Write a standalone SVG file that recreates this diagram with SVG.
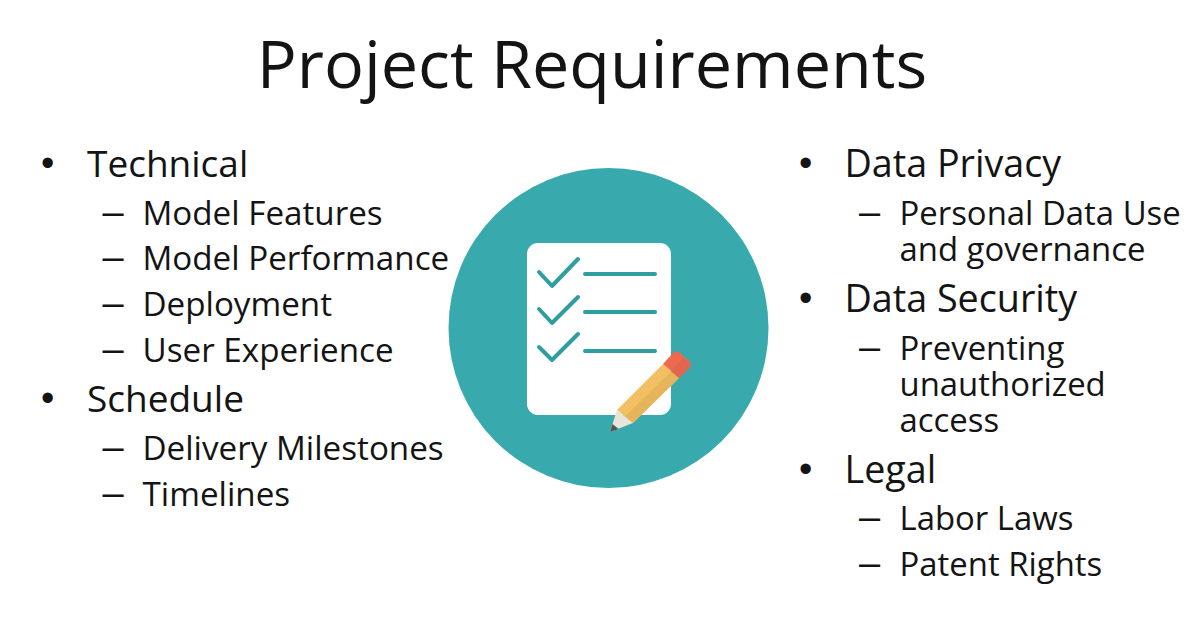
<svg xmlns="http://www.w3.org/2000/svg" width="1200" height="634" viewBox="0 0 1200 634">
<style>
text{font-family:"Open Sans","Noto Sans",sans-serif;fill:#141414}
.t{font-size:66.500px}.a{font-size:37px}.b{font-size:33.200px}
.ar{font-size:37.700px}.br{font-size:32.900px}
.u{font-family:"Liberation Sans",sans-serif;font-size:38px}
.d{font-family:"Liberation Sans",sans-serif;font-size:38px}
.c{fill:none;stroke:#2f9ea1;stroke-width:4;stroke-linecap:round;stroke-linejoin:round}
</style>
<rect width="1200" height="634" fill="#fff"/>
<text class="t" x="592" y="88" text-anchor="middle">Project Requirements</text>
<g id="left">
<text class="u" x="41" y="176">•</text><text class="a" x="87" y="177">Technical</text>
<text class="d" x="102.500" y="225">–</text><text class="b" x="142.500" y="225">Model Features</text>
<text class="d" x="102.500" y="270">–</text><text class="b" x="142.500" y="270">Model Performance</text>
<text class="d" x="102.500" y="316">–</text><text class="b" x="142.500" y="316">Deployment</text>
<text class="d" x="102.500" y="362">–</text><text class="b" x="142.500" y="362">User Experience</text>
<text class="u" x="41" y="411">•</text><text class="a" x="87" y="412">Schedule</text>
<text class="d" x="102.500" y="460">–</text><text class="b" x="142.500" y="460">Delivery Milestones</text>
<text class="d" x="102.500" y="506">–</text><text class="b" x="142.500" y="506">Timelines</text>
</g>
<g id="right">
<text class="u" x="799" y="176">•</text><text class="ar" x="844.500" y="177">Data Privacy</text>
<text class="d" x="859" y="225">–</text><text class="br" x="899.500" y="225">Personal Data Use<tspan x="899.500" y="261">and governance</tspan></text>
<text class="u" x="799" y="311">•</text><text class="ar" x="844.500" y="312">Data Security</text>
<text class="d" x="859" y="360">–</text><text class="br" x="899.500" y="360">Preventing<tspan x="899.500" y="396">unauthorized</tspan><tspan x="899.500" y="432">access</tspan></text>
<text class="u" x="799" y="482">•</text><text class="ar" x="844.500" y="483">Legal</text>
<text class="d" x="859" y="530">–</text><text class="br" x="899.500" y="530">Labor Laws</text>
<text class="d" x="859" y="576">–</text><text class="br" x="899.500" y="576">Patent Rights</text>
</g>
<g id="icon">
<circle cx="608.500" cy="328" r="160" fill="#38aaad"/>
<rect x="527" y="243" width="144" height="172" rx="11" fill="#fff"/>
<path class="c" d="M539 272l13 14 26-27M539 309l13 14 26-26M539 347l13 13 26-26M585 274h70M585 312h70M585 351h70"/>
<path d="M617 410l46-46 16 14-46 45z" fill="#f2c062"/>
<path d="M625 416.500l46-45 8 6.500-46 45z" fill="#e6b45b"/>
<path d="M610 432l7-22 16 13z" fill="#e9e4da"/>
<path d="M610 432l2.500-8 6 5z" fill="#555"/>
<path d="M663 364l10-11q3-3 6-1l11 10q2 3 0 5l-11 11z" fill="#ee6a4f"/>
<path d="M671 371l12-13 7 5q1 2 0 4l-11 11z" fill="#e2654d"/>
</g>
</svg>
